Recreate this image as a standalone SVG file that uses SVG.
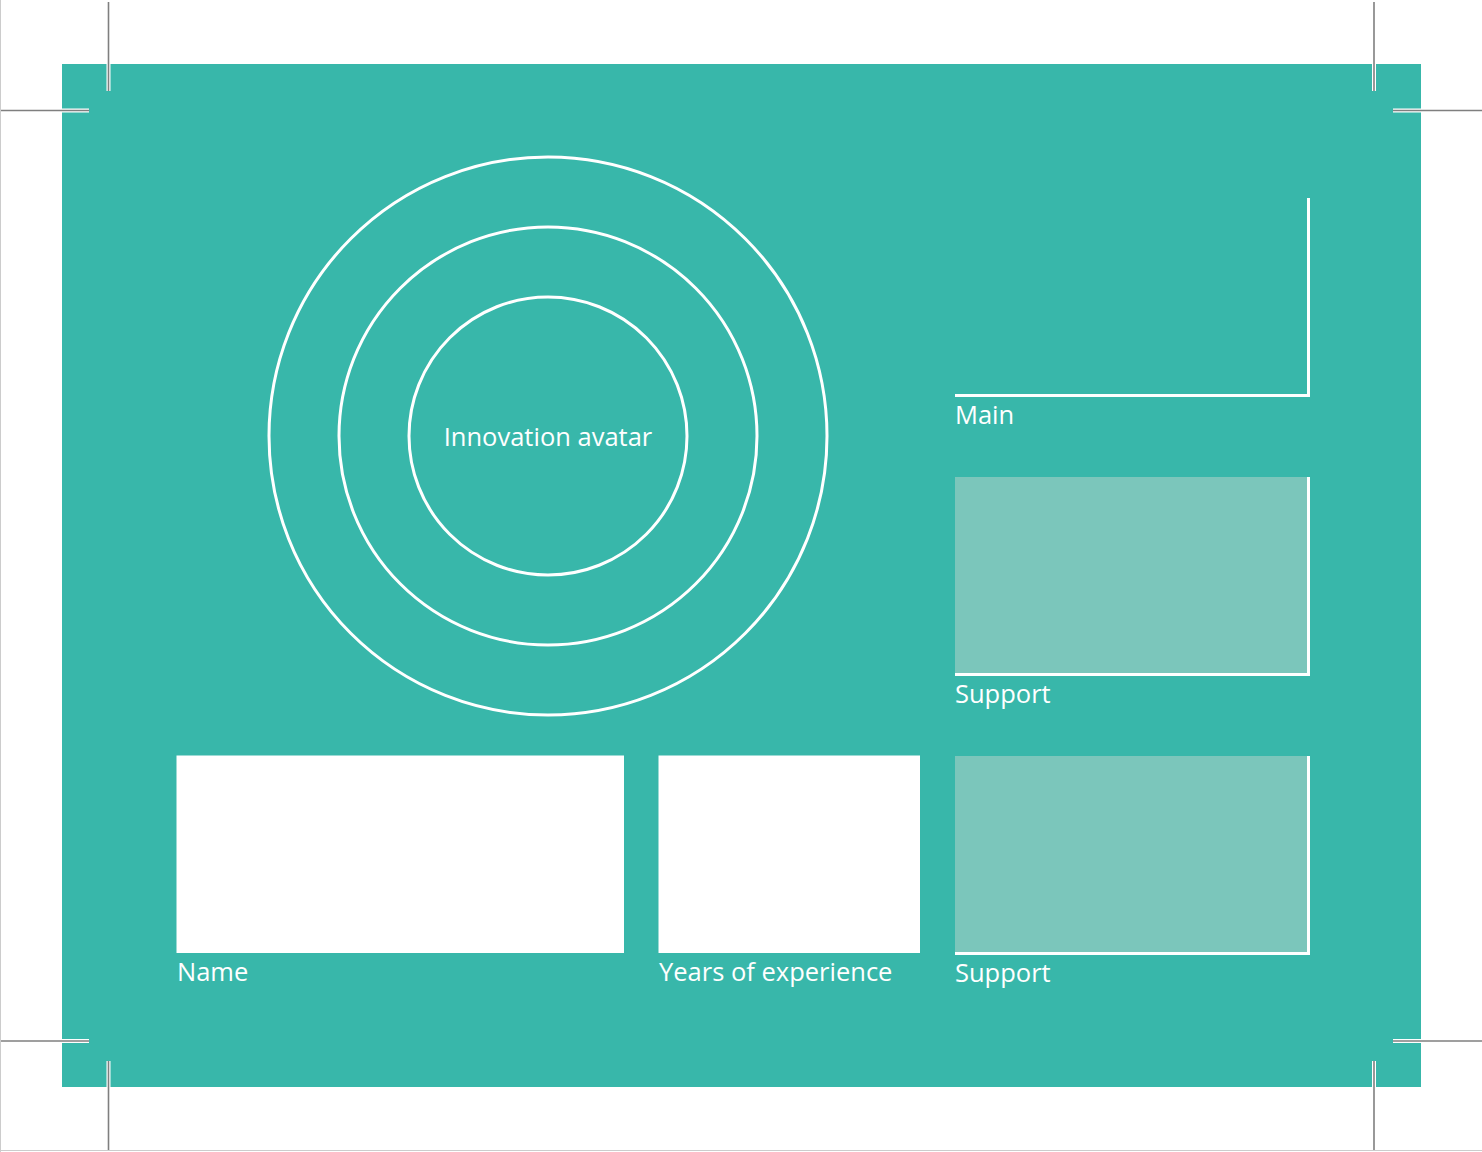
<svg xmlns="http://www.w3.org/2000/svg" width="1482" height="1152" viewBox="0 0 1482 1152">
<style>
.lbl{font-family:"Open Sans","Noto Sans","DejaVu Sans",sans-serif;font-size:25.5px;fill:#ffffff;}
.ring{fill:none;stroke:#ffffff;stroke-width:3;}
.crop-w{stroke:#ffffff;stroke-width:4;}
.crop-g{stroke:#7f7f7f;stroke-width:1.6;}
.sup{fill:#7bc6bb;}
.edge{stroke:#ffffff;stroke-width:3;fill:none;}
</style>
<rect x="0" y="0" width="1482" height="1152" fill="#ffffff"/>
<line x1="0.5" y1="0" x2="0.5" y2="1152" stroke="#cccccc" stroke-width="1"/>
<line x1="0" y1="1150.5" x2="1482" y2="1150.5" stroke="#cccccc" stroke-width="1"/>
<rect id="background" x="62" y="64" width="1359" height="1023" fill="#38b7aa"/>
<g id="crop-marks">
<line class="crop-w" x1="108.5" y1="64" x2="108.5" y2="91"/>
<line class="crop-w" x1="62" y1="110.5" x2="89" y2="110.5"/>
<line class="crop-g" x1="108.5" y1="2" x2="108.5" y2="91"/>
<line class="crop-g" x1="1" y1="110.5" x2="89" y2="110.5"/>
<line class="crop-w" x1="1374" y1="64" x2="1374" y2="91"/>
<line class="crop-w" x1="1393" y1="110.5" x2="1421" y2="110.5"/>
<line class="crop-g" x1="1374" y1="2" x2="1374" y2="91"/>
<line class="crop-g" x1="1393" y1="110.5" x2="1482" y2="110.5"/>
<line class="crop-w" x1="62" y1="1041" x2="89" y2="1041"/>
<line class="crop-w" x1="108.5" y1="1061" x2="108.5" y2="1087"/>
<line class="crop-g" x1="1" y1="1041" x2="89" y2="1041"/>
<line class="crop-g" x1="108.5" y1="1061" x2="108.5" y2="1150"/>
<line class="crop-w" x1="1393" y1="1041" x2="1421" y2="1041"/>
<line class="crop-w" x1="1374" y1="1061" x2="1374" y2="1087"/>
<line class="crop-g" x1="1393" y1="1041" x2="1482" y2="1041"/>
<line class="crop-g" x1="1374" y1="1061" x2="1374" y2="1150"/>
</g>
<g id="avatar">
<circle class="ring" cx="548" cy="436" r="279"/>
<circle class="ring" cx="548" cy="436" r="209"/>
<circle class="ring" cx="548" cy="436" r="139"/>
<text class="lbl" x="548" y="446" text-anchor="middle">Innovation avatar</text>
</g>
<g id="main">
<path class="edge" d="M955,395.5 H1308.5 V198"/>
<text class="lbl" x="955" y="423.5">Main</text>
</g>
<g id="support-1">
<rect class="sup" x="955" y="477" width="352" height="196"/>
<path class="edge" d="M955,674.5 H1308.5 V477"/>
<text class="lbl" x="955" y="702.5">Support</text>
</g>
<g id="support-2">
<rect class="sup" x="955" y="756" width="352" height="196"/>
<path class="edge" d="M955,953.5 H1308.5 V756"/>
<text class="lbl" x="955" y="981.5">Support</text>
</g>
<g id="name">
<rect x="176.5" y="755.5" width="447.5" height="197.5" fill="#ffffff"/>
<text class="lbl" x="177" y="981">Name</text>
</g>
<g id="years">
<rect x="658.5" y="755.5" width="261.5" height="197.5" fill="#ffffff"/>
<text class="lbl" x="659" y="981">Years of experience</text>
</g>
<g id="connectors"></g>
</svg>
